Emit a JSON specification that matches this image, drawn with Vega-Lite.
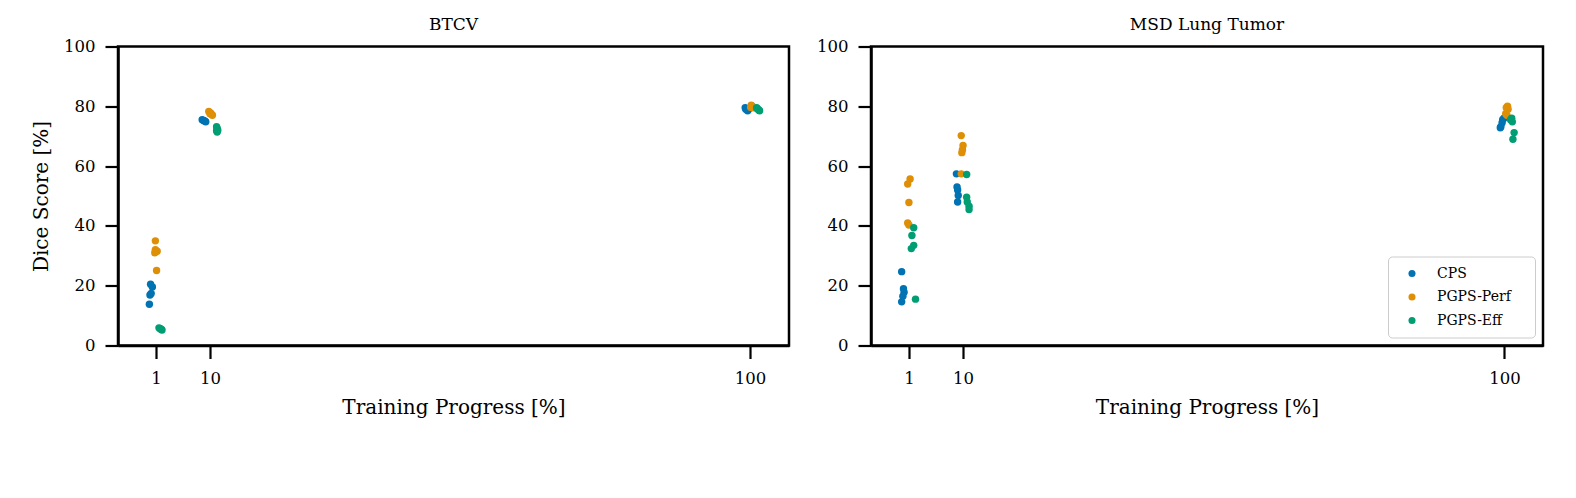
{
  "$schema": "https://vega.github.io/schema/vega-lite/v6.json",
  "padding": {"left": 30, "top": 14.5, "right": 5, "bottom": 5},
  "background": "white",
  "config": {
    "font": "DejaVu Serif",
    "view": {"stroke": "black", "strokeWidth": 2.5},
    "axis": {
      "grid": false,
      "domainColor": "black",
      "domainWidth": 2.5,
      "tickColor": "black",
      "tickWidth": 2.2,
      "tickSize": 13,
      "labelFont": "DejaVu Serif",
      "labelFontSize": 16.5,
      "labelColor": "black",
      "labelPadding": 10,
      "titleFont": "DejaVu Serif",
      "titleFontSize": 20,
      "titleFontWeight": "normal",
      "titleColor": "black"
    },
    "concat": {"spacing": 24}
  },
  "data": {
    "values": [
      {"panel": "BTCV", "method": "CPS", "x": 0.1, "dice": 20.5},
      {"panel": "BTCV", "method": "CPS", "x": 0.4, "dice": 19.6},
      {"panel": "BTCV", "method": "CPS", "x": 0.2, "dice": 17.4},
      {"panel": "BTCV", "method": "CPS", "x": 0.0, "dice": 16.9},
      {"panel": "BTCV", "method": "CPS", "x": -0.1, "dice": 13.8},
      {"panel": "BTCV", "method": "PGPS-Perf", "x": 0.9, "dice": 35.0},
      {"panel": "BTCV", "method": "PGPS-Perf", "x": 0.9, "dice": 32.0},
      {"panel": "BTCV", "method": "PGPS-Perf", "x": 1.2, "dice": 31.5},
      {"panel": "BTCV", "method": "PGPS-Perf", "x": 0.8, "dice": 31.0},
      {"panel": "BTCV", "method": "PGPS-Perf", "x": 1.1, "dice": 25.1},
      {"panel": "BTCV", "method": "PGPS-Eff", "x": 1.5, "dice": 5.9},
      {"panel": "BTCV", "method": "PGPS-Eff", "x": 1.7, "dice": 5.6},
      {"panel": "BTCV", "method": "PGPS-Eff", "x": 1.9, "dice": 5.4},
      {"panel": "BTCV", "method": "PGPS-Eff", "x": 2.0, "dice": 5.2},
      {"panel": "BTCV", "method": "PGPS-Eff", "x": 1.8, "dice": 5.5},
      {"panel": "BTCV", "method": "CPS", "x": 8.7, "dice": 75.5},
      {"panel": "BTCV", "method": "CPS", "x": 9.0, "dice": 75.2},
      {"panel": "BTCV", "method": "CPS", "x": 9.2, "dice": 75.0},
      {"panel": "BTCV", "method": "CPS", "x": 8.9, "dice": 75.3},
      {"panel": "BTCV", "method": "CPS", "x": 9.3, "dice": 74.8},
      {"panel": "BTCV", "method": "PGPS-Perf", "x": 9.8, "dice": 78.3},
      {"panel": "BTCV", "method": "PGPS-Perf", "x": 10.1, "dice": 77.8},
      {"panel": "BTCV", "method": "PGPS-Perf", "x": 10.3, "dice": 77.3},
      {"panel": "BTCV", "method": "PGPS-Perf", "x": 10.0, "dice": 77.5},
      {"panel": "BTCV", "method": "PGPS-Perf", "x": 10.4, "dice": 77.0},
      {"panel": "BTCV", "method": "PGPS-Eff", "x": 11.1, "dice": 73.2},
      {"panel": "BTCV", "method": "PGPS-Eff", "x": 11.2, "dice": 72.6},
      {"panel": "BTCV", "method": "PGPS-Eff", "x": 11.3, "dice": 72.0},
      {"panel": "BTCV", "method": "PGPS-Eff", "x": 11.2, "dice": 71.4},
      {"panel": "BTCV", "method": "PGPS-Eff", "x": 11.1, "dice": 71.8},
      {"panel": "BTCV", "method": "CPS", "x": 99.2, "dice": 79.5},
      {"panel": "BTCV", "method": "CPS", "x": 99.5, "dice": 79.2},
      {"panel": "BTCV", "method": "CPS", "x": 99.7, "dice": 78.8},
      {"panel": "BTCV", "method": "CPS", "x": 99.6, "dice": 78.5},
      {"panel": "BTCV", "method": "CPS", "x": 99.3, "dice": 79.0},
      {"panel": "BTCV", "method": "PGPS-Perf", "x": 100.2, "dice": 80.4},
      {"panel": "BTCV", "method": "PGPS-Perf", "x": 100.4, "dice": 80.0},
      {"panel": "BTCV", "method": "PGPS-Perf", "x": 100.1, "dice": 79.7},
      {"panel": "BTCV", "method": "PGPS-Perf", "x": 100.5, "dice": 79.5},
      {"panel": "BTCV", "method": "PGPS-Perf", "x": 100.3, "dice": 80.0},
      {"panel": "BTCV", "method": "PGPS-Eff", "x": 101.1, "dice": 79.5},
      {"panel": "BTCV", "method": "PGPS-Eff", "x": 101.3, "dice": 79.0},
      {"panel": "BTCV", "method": "PGPS-Eff", "x": 101.5, "dice": 78.7},
      {"panel": "BTCV", "method": "PGPS-Eff", "x": 101.6, "dice": 78.5},
      {"panel": "BTCV", "method": "PGPS-Eff", "x": 101.2, "dice": 79.3},

      {"panel": "MSD Lung Tumor", "method": "CPS", "x": -0.2, "dice": 24.7},
      {"panel": "MSD Lung Tumor", "method": "CPS", "x": 0.1, "dice": 19.0},
      {"panel": "MSD Lung Tumor", "method": "CPS", "x": 0.2, "dice": 17.8},
      {"panel": "MSD Lung Tumor", "method": "CPS", "x": 0.0, "dice": 16.5},
      {"panel": "MSD Lung Tumor", "method": "CPS", "x": -0.2, "dice": 14.6},
      {"panel": "MSD Lung Tumor", "method": "PGPS-Perf", "x": 1.2, "dice": 55.7},
      {"panel": "MSD Lung Tumor", "method": "PGPS-Perf", "x": 0.8, "dice": 54.0},
      {"panel": "MSD Lung Tumor", "method": "PGPS-Perf", "x": 1.0, "dice": 47.8},
      {"panel": "MSD Lung Tumor", "method": "PGPS-Perf", "x": 0.8, "dice": 41.0},
      {"panel": "MSD Lung Tumor", "method": "PGPS-Perf", "x": 1.0, "dice": 40.3},
      {"panel": "MSD Lung Tumor", "method": "PGPS-Eff", "x": 1.8, "dice": 39.4},
      {"panel": "MSD Lung Tumor", "method": "PGPS-Eff", "x": 1.5, "dice": 36.8},
      {"panel": "MSD Lung Tumor", "method": "PGPS-Eff", "x": 1.8, "dice": 33.5},
      {"panel": "MSD Lung Tumor", "method": "PGPS-Eff", "x": 1.4, "dice": 32.4},
      {"panel": "MSD Lung Tumor", "method": "PGPS-Eff", "x": 2.1, "dice": 15.5},
      {"panel": "MSD Lung Tumor", "method": "CPS", "x": 8.9, "dice": 57.4},
      {"panel": "MSD Lung Tumor", "method": "CPS", "x": 9.0, "dice": 53.0},
      {"panel": "MSD Lung Tumor", "method": "CPS", "x": 9.1, "dice": 52.0},
      {"panel": "MSD Lung Tumor", "method": "CPS", "x": 9.2, "dice": 50.2},
      {"panel": "MSD Lung Tumor", "method": "CPS", "x": 9.1, "dice": 48.0},
      {"panel": "MSD Lung Tumor", "method": "PGPS-Perf", "x": 9.7, "dice": 70.2},
      {"panel": "MSD Lung Tumor", "method": "PGPS-Perf", "x": 10.0, "dice": 66.9},
      {"panel": "MSD Lung Tumor", "method": "PGPS-Perf", "x": 9.9, "dice": 65.5},
      {"panel": "MSD Lung Tumor", "method": "PGPS-Perf", "x": 9.8, "dice": 64.5},
      {"panel": "MSD Lung Tumor", "method": "PGPS-Perf", "x": 9.7, "dice": 57.4},
      {"panel": "MSD Lung Tumor", "method": "PGPS-Eff", "x": 10.6, "dice": 57.2},
      {"panel": "MSD Lung Tumor", "method": "PGPS-Eff", "x": 10.6, "dice": 49.6},
      {"panel": "MSD Lung Tumor", "method": "PGPS-Eff", "x": 10.7, "dice": 48.0},
      {"panel": "MSD Lung Tumor", "method": "PGPS-Eff", "x": 11.0, "dice": 46.6},
      {"panel": "MSD Lung Tumor", "method": "PGPS-Eff", "x": 11.0, "dice": 45.5},
      {"panel": "MSD Lung Tumor", "method": "CPS", "x": 99.9, "dice": 76.0},
      {"panel": "MSD Lung Tumor", "method": "CPS", "x": 99.7, "dice": 75.5},
      {"panel": "MSD Lung Tumor", "method": "CPS", "x": 99.6, "dice": 74.5},
      {"panel": "MSD Lung Tumor", "method": "CPS", "x": 99.4, "dice": 73.2},
      {"panel": "MSD Lung Tumor", "method": "CPS", "x": 99.3, "dice": 72.8},
      {"panel": "MSD Lung Tumor", "method": "PGPS-Perf", "x": 100.5, "dice": 80.0},
      {"panel": "MSD Lung Tumor", "method": "PGPS-Perf", "x": 100.3, "dice": 79.5},
      {"panel": "MSD Lung Tumor", "method": "PGPS-Perf", "x": 100.6, "dice": 79.0},
      {"panel": "MSD Lung Tumor", "method": "PGPS-Perf", "x": 100.2, "dice": 77.5},
      {"panel": "MSD Lung Tumor", "method": "PGPS-Perf", "x": 100.4, "dice": 77.0},
      {"panel": "MSD Lung Tumor", "method": "PGPS-Eff", "x": 101.2, "dice": 76.0},
      {"panel": "MSD Lung Tumor", "method": "PGPS-Eff", "x": 101.0, "dice": 75.5},
      {"panel": "MSD Lung Tumor", "method": "PGPS-Eff", "x": 101.3, "dice": 74.8},
      {"panel": "MSD Lung Tumor", "method": "PGPS-Eff", "x": 101.6, "dice": 71.2},
      {"panel": "MSD Lung Tumor", "method": "PGPS-Eff", "x": 101.4, "dice": 69.0}
    ]
  },
  "resolve": {"legend": {"color": "independent"}},
  "hconcat": [
    {
      "title": {"text": "BTCV", "font": "DejaVu Serif", "fontSize": 17, "fontWeight": "normal", "color": "black", "offset": 4.5},
      "width": 671,
      "height": 299,
      "transform": [{"filter": "datum.panel === 'BTCV'"}],
      "mark": {"type": "circle", "size": 55, "opacity": 1},
      "encoding": {
        "x": {"field": "x", "type": "quantitative", "title": "Training Progress [%]",
              "scale": {"domain": [-5.33, 106.5], "nice": false, "zero": false},
              "axis": {"values": [1, 10, 100], "labelPadding": 12, "titlePadding": 10}},
        "y": {"field": "dice", "type": "quantitative", "title": "Dice Score [%]",
              "scale": {"domain": [0, 100], "nice": false},
              "axis": {"values": [0, 20, 40, 60, 80, 100], "titlePadding": 12}},
        "color": {"field": "method", "type": "nominal",
                  "scale": {"domain": ["CPS", "PGPS-Perf", "PGPS-Eff"], "range": ["#0173b2", "#de8f05", "#029e73"]},
                  "legend": null}
      }
    },
    {
      "title": {"text": "MSD Lung Tumor", "font": "DejaVu Serif", "fontSize": 17, "fontWeight": "normal", "color": "black", "offset": 4.5},
      "width": 672,
      "height": 299,
      "transform": [{"filter": "datum.panel === 'MSD Lung Tumor'"}],
      "mark": {"type": "circle", "size": 55, "opacity": 1},
      "encoding": {
        "x": {"field": "x", "type": "quantitative", "title": "Training Progress [%]",
              "scale": {"domain": [-5.3, 106.4], "nice": false, "zero": false},
              "axis": {"values": [1, 10, 100], "labelPadding": 12, "titlePadding": 10}},
        "y": {"field": "dice", "type": "quantitative", "title": null,
              "scale": {"domain": [0, 100], "nice": false},
              "axis": {"values": [0, 20, 40, 60, 80, 100]}},
        "color": {"field": "method", "type": "nominal",
                  "scale": {"domain": ["CPS", "PGPS-Perf", "PGPS-Eff"], "range": ["#0173b2", "#de8f05", "#029e73"]},
                  "legend": {"title": null, "orient": "bottom-right", "offset": 8, "padding": 10,
                             "strokeColor": "#cccccc", "fillColor": "white", "cornerRadius": 4,
                             "symbolType": "circle", "symbolSize": 50, "symbolOffset": 7,
                             "labelFont": "DejaVu Serif", "labelFontSize": 14, "labelColor": "black",
                             "labelOffset": 18, "rowPadding": 9.5,
                             "labelExpr": "datum.label + '\u00a0\u00a0\u00a0\u200b'"}}
      }
    }
  ]
}
